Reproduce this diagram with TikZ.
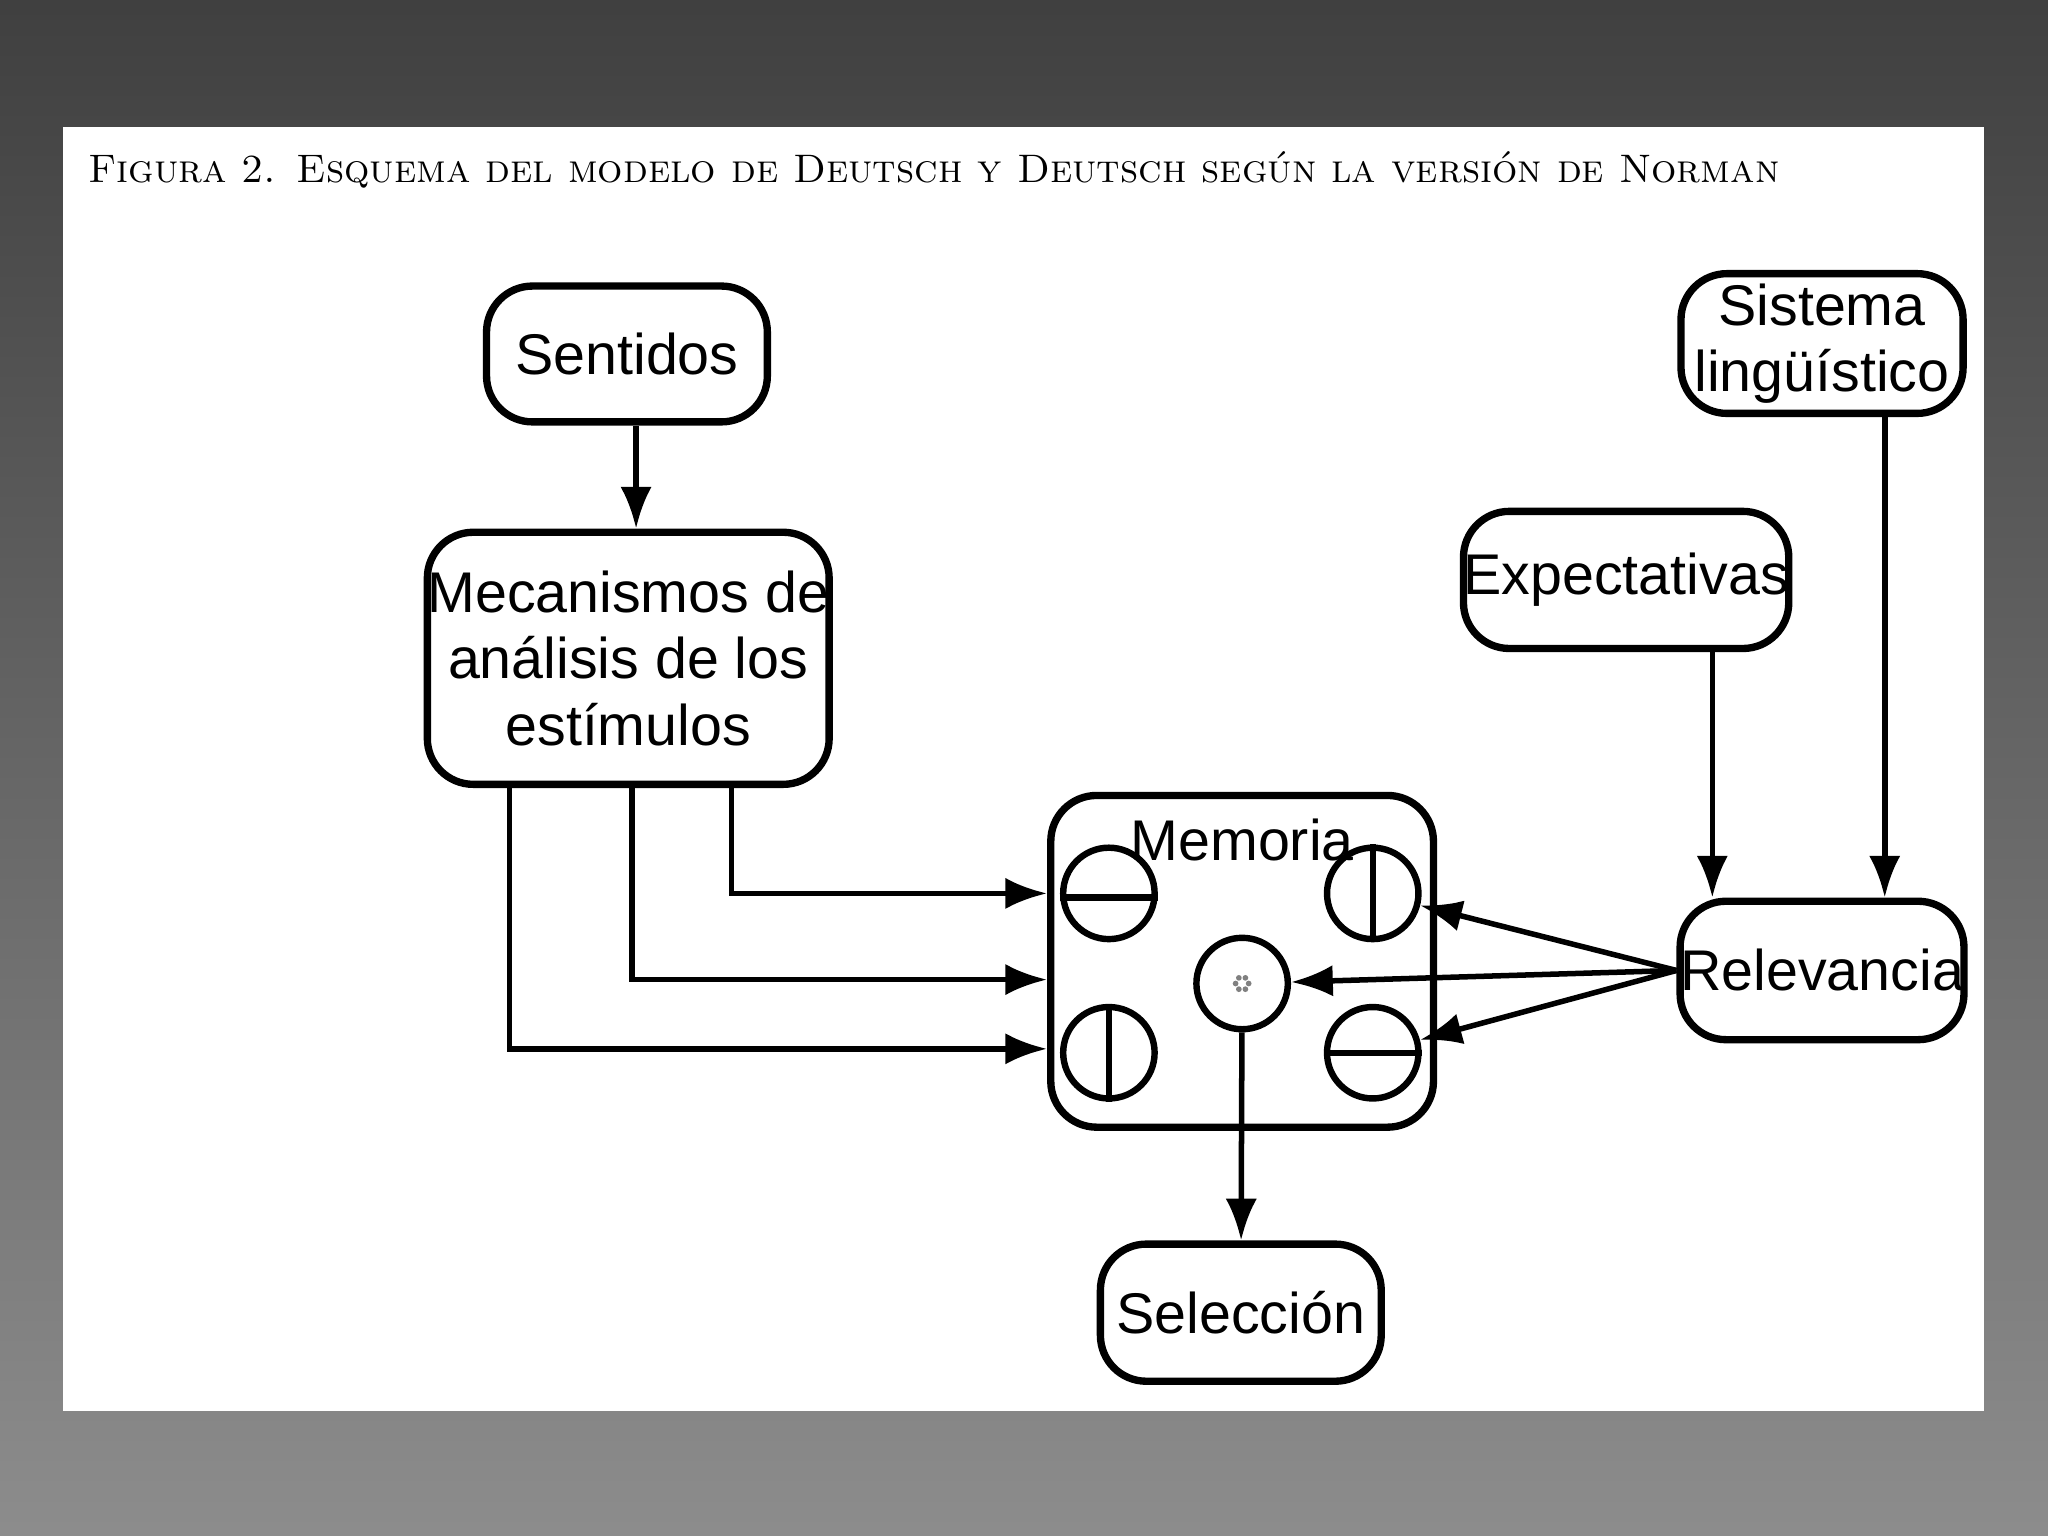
\documentclass[tikz,border=0pt]{standalone}
\usepackage{fontspec}
\setsansfont{Liberation Sans}
\usetikzlibrary{arrows.meta,positioning}

\tikzset{
  box/.style={draw, line width=1.6pt, rounded corners=10pt, align=center,
    font=\sffamily\fontsize{12.5}{14.5}\selectfont, inner sep=0pt},
  item/.style={draw, circle, line width=1.4pt, minimum size=7mm, inner sep=0pt},
  link/.style={line width=1.2pt, -{Latex[length=3.2mm,width=2.4mm]}},
}

\begin{document}
\begin{tikzpicture}[x=0.1mm,y=-0.1mm]
  % background and panel
  \shade[top color=black!75, bottom color=black!45] (0,0) rectangle (1568,1176);
  \useasboundingbox (0,0) rectangle (1568,1176);
  \fill[white] (48,97) rectangle (1519,1080);
  \node[anchor=west] (title) at (55,130)
    {\resizebox{129.5mm}{!}{\textsc{Figura 2. Esquema del modelo de Deutsch y Deutsch según la versión de Norman}}};

  \node[box, minimum width=21.5mm, minimum height=10.4mm] (sent) at (480,271) {Sentidos};
  \node[box, minimum width=30.2mm, minimum height=19.3mm] (mec) at (481,504)
    {Mecanismos de\\análisis de los\\estímulos};
  \node[box, minimum width=29.3mm, minimum height=25.4mm] (mem) at (951,736) {};
  \node[font=\sffamily\fontsize{12.5}{14.5}\selectfont] (memlab) at (951,643) {Memoria};
  \node[box, minimum width=21.5mm, minimum height=10.5mm] (sel) at (950,1005) {Selección};
  \node[box, minimum width=21.6mm, minimum height=10.6mm] (rel) at (1395,743) {Relevancia};
  \node[box, minimum width=21.5mm, minimum height=10.5mm] (exp) at (1245,444) {Expectativas};
  \node[box, minimum width=21.6mm, minimum height=10.7mm] (sis) at (1395,263) {Sistema\\lingüístico};

  % items stored in memory
  \node[item] (m1) at (849,684) {};
  \node[item] (m2) at (1051,684) {};
  \node[item] (m3) at (951,753) {};
  \node[item] (m4) at (849,806) {};
  \node[item] (m5) at (1051,806) {};
  \draw[line width=1.4pt] ([yshift=-0.3mm]m1.west) -- ([yshift=-0.3mm]m1.east);
  \draw[line width=1.4pt] (m5.west) -- (m5.east);
  \draw[line width=1.4pt] (m2.north) -- (m2.south);
  \draw[line width=1.4pt] (m4.north) -- (m4.south);
  \foreach \a in {0,60,...,300}
    \fill[gray] (m3.center) ++(\a:5) circle (2.2);

  \coordinate (in1) at (mem.west |- m1);
  \coordinate (in2) at (mem.west |- 0,750);
  \coordinate (in3) at (mem.west |- 0,803);

  \draw[link] (sent.south -| 487,0) -- (mec.north -| 487,0);
  \draw[link] (mec.south -| 560,0) |- (in1);
  \draw[link] (mec.south -| 484,0) |- (in2);
  \draw[link] (mec.south -| 390,0) |- (in3);
  \draw[link] (rel.west) -- (m2);
  \draw[link] (rel.west) -- (m3);
  \draw[link] (rel.west) -- (m5);
  \draw[link] (m3) -- (sel);
  \draw[link] (exp.south -| 1311,0) -- (rel.north -| 1311,0);
  \draw[link] (sis.south -| 1443,0) -- (rel.north -| 1443,0);
\end{tikzpicture}
\end{document}
